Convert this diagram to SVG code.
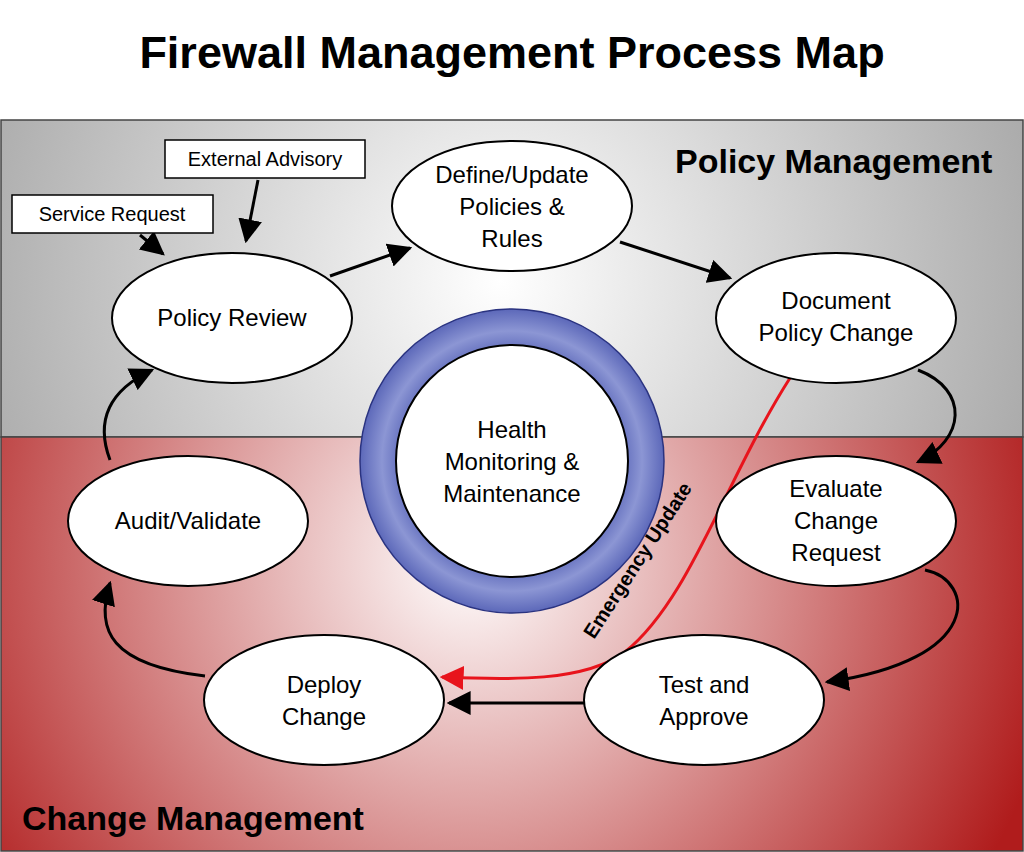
<svg xmlns="http://www.w3.org/2000/svg" width="1024" height="852" viewBox="0 0 1024 852">
<defs>
<radialGradient id="g1" cx="500" cy="280" r="560" gradientUnits="userSpaceOnUse"><stop offset="0" stop-color="#ffffff"/><stop offset="1" stop-color="#a9a9a9"/></radialGradient>
<radialGradient id="g2" cx="470" cy="560" r="600" gradientUnits="userSpaceOnUse"><stop offset="0" stop-color="#ffffff"/><stop offset="0.6" stop-color="#d07878"/><stop offset="1" stop-color="#b01c1c"/></radialGradient>
<radialGradient id="g3" cx="512" cy="461" r="153" gradientUnits="userSpaceOnUse"><stop offset="0.7" stop-color="#5a66b8"/><stop offset="0.85" stop-color="#8c96d4"/><stop offset="1" stop-color="#5a66b8"/></radialGradient>
<marker id="ahb" viewBox="0 0 10 10" refX="9" refY="5" markerWidth="8" markerHeight="8" orient="auto"><path d="M0,0L10,5L0,10z" fill="#000"/></marker>
<marker id="ahr" viewBox="0 0 10 10" refX="9" refY="5" markerWidth="8" markerHeight="8" orient="auto"><path d="M0,0L10,5L0,10z" fill="#e8141c"/></marker>
</defs>
<style>
text{font-family:"Liberation Sans",Arial,sans-serif;fill:#000}
.n{font-size:24px;text-anchor:middle}
.e{fill:#fff;stroke:#000;stroke-width:2}
.b{fill:#fff;stroke:#000;stroke-width:1.5}
.c{fill:none;stroke:#000;stroke-width:3;marker-end:url(#ahb)}
.h{font-size:34px;font-weight:bold}
</style>
<rect width="1024" height="852" fill="#fff"/>
<text x="512" y="68" font-size="45" font-weight="bold" text-anchor="middle">Firewall Management Process Map</text>
<rect x="1" y="120" width="1022" height="317" fill="url(#g1)" stroke="#444" stroke-width="1.5"/>
<rect x="1" y="437" width="1022" height="414" fill="url(#g2)" stroke="#444" stroke-width="1.5"/>
<text class="h" x="675" y="173">Policy Management</text>
<text class="h" x="22" y="830">Change Management</text>
<g id="connectors">
<path class="c" d="M258,180 L246,241"/>
<path class="c" d="M140,235 L163,254"/>
<path class="c" d="M330,276 L410,248"/>
<path class="c" d="M620,242 L730,278"/>
<path class="c" d="M918,370 C970,390 965,440 918,462"/>
<path class="c" d="M925,570 C975,580 985,660 827,682"/>
<path class="c" d="M584,703 L449,703"/>
<path class="c" d="M205,676 C110,665 95,630 110,583"/>
<path class="c" d="M110,460 C95,420 110,390 152,370"/>
<path d="M790,378 C725,480 690,600 625,652 C585,682 510,680 442,677" fill="none" stroke="#e8141c" stroke-width="3" marker-end="url(#ahr)"/>
<text x="0" y="0" font-size="20" font-weight="bold" transform="translate(594,640) rotate(-57)">Emergency Update</text>
</g>
<g id="external-advisory"><rect class="b" x="165" y="140" width="200" height="38"/><text x="265" y="166" font-size="20" text-anchor="middle">External Advisory</text></g>
<g id="service-request"><rect class="b" x="12" y="195" width="201" height="38"/><text x="112" y="221" font-size="20" text-anchor="middle">Service Request</text></g>
<g id="policy-review"><ellipse class="e" cx="232" cy="318" rx="120" ry="65"/><text class="n" x="232" y="326">Policy Review</text></g>
<g id="define"><ellipse class="e" cx="512" cy="206" rx="120" ry="65"/><text class="n" x="512" y="183">Define/Update</text><text class="n" x="512" y="215">Policies &amp;</text><text class="n" x="512" y="247">Rules</text></g>
<g id="document"><ellipse class="e" cx="836" cy="318" rx="120" ry="65"/><text class="n" x="836" y="309">Document</text><text class="n" x="836" y="341">Policy Change</text></g>
<g id="evaluate"><ellipse class="e" cx="836" cy="521" rx="120" ry="65"/><text class="n" x="836" y="497">Evaluate</text><text class="n" x="836" y="529">Change</text><text class="n" x="836" y="561">Request</text></g>
<g id="test"><ellipse class="e" cx="704" cy="700" rx="120" ry="65"/><text class="n" x="704" y="693">Test and</text><text class="n" x="704" y="725">Approve</text></g>
<g id="deploy"><ellipse class="e" cx="324" cy="700" rx="120" ry="65"/><text class="n" x="324" y="693">Deploy</text><text class="n" x="324" y="725">Change</text></g>
<g id="audit"><ellipse class="e" cx="188" cy="521" rx="120" ry="65"/><text class="n" x="188" y="529">Audit/Validate</text></g>
<g id="health"><circle cx="512" cy="461" r="152" fill="url(#g3)" stroke="#2a3380" stroke-width="1.5"/><circle class="e" cx="512" cy="461" r="116"/><text class="n" x="512" y="438">Health</text><text class="n" x="512" y="470">Monitoring &amp;</text><text class="n" x="512" y="502">Maintenance</text></g>
</svg>
